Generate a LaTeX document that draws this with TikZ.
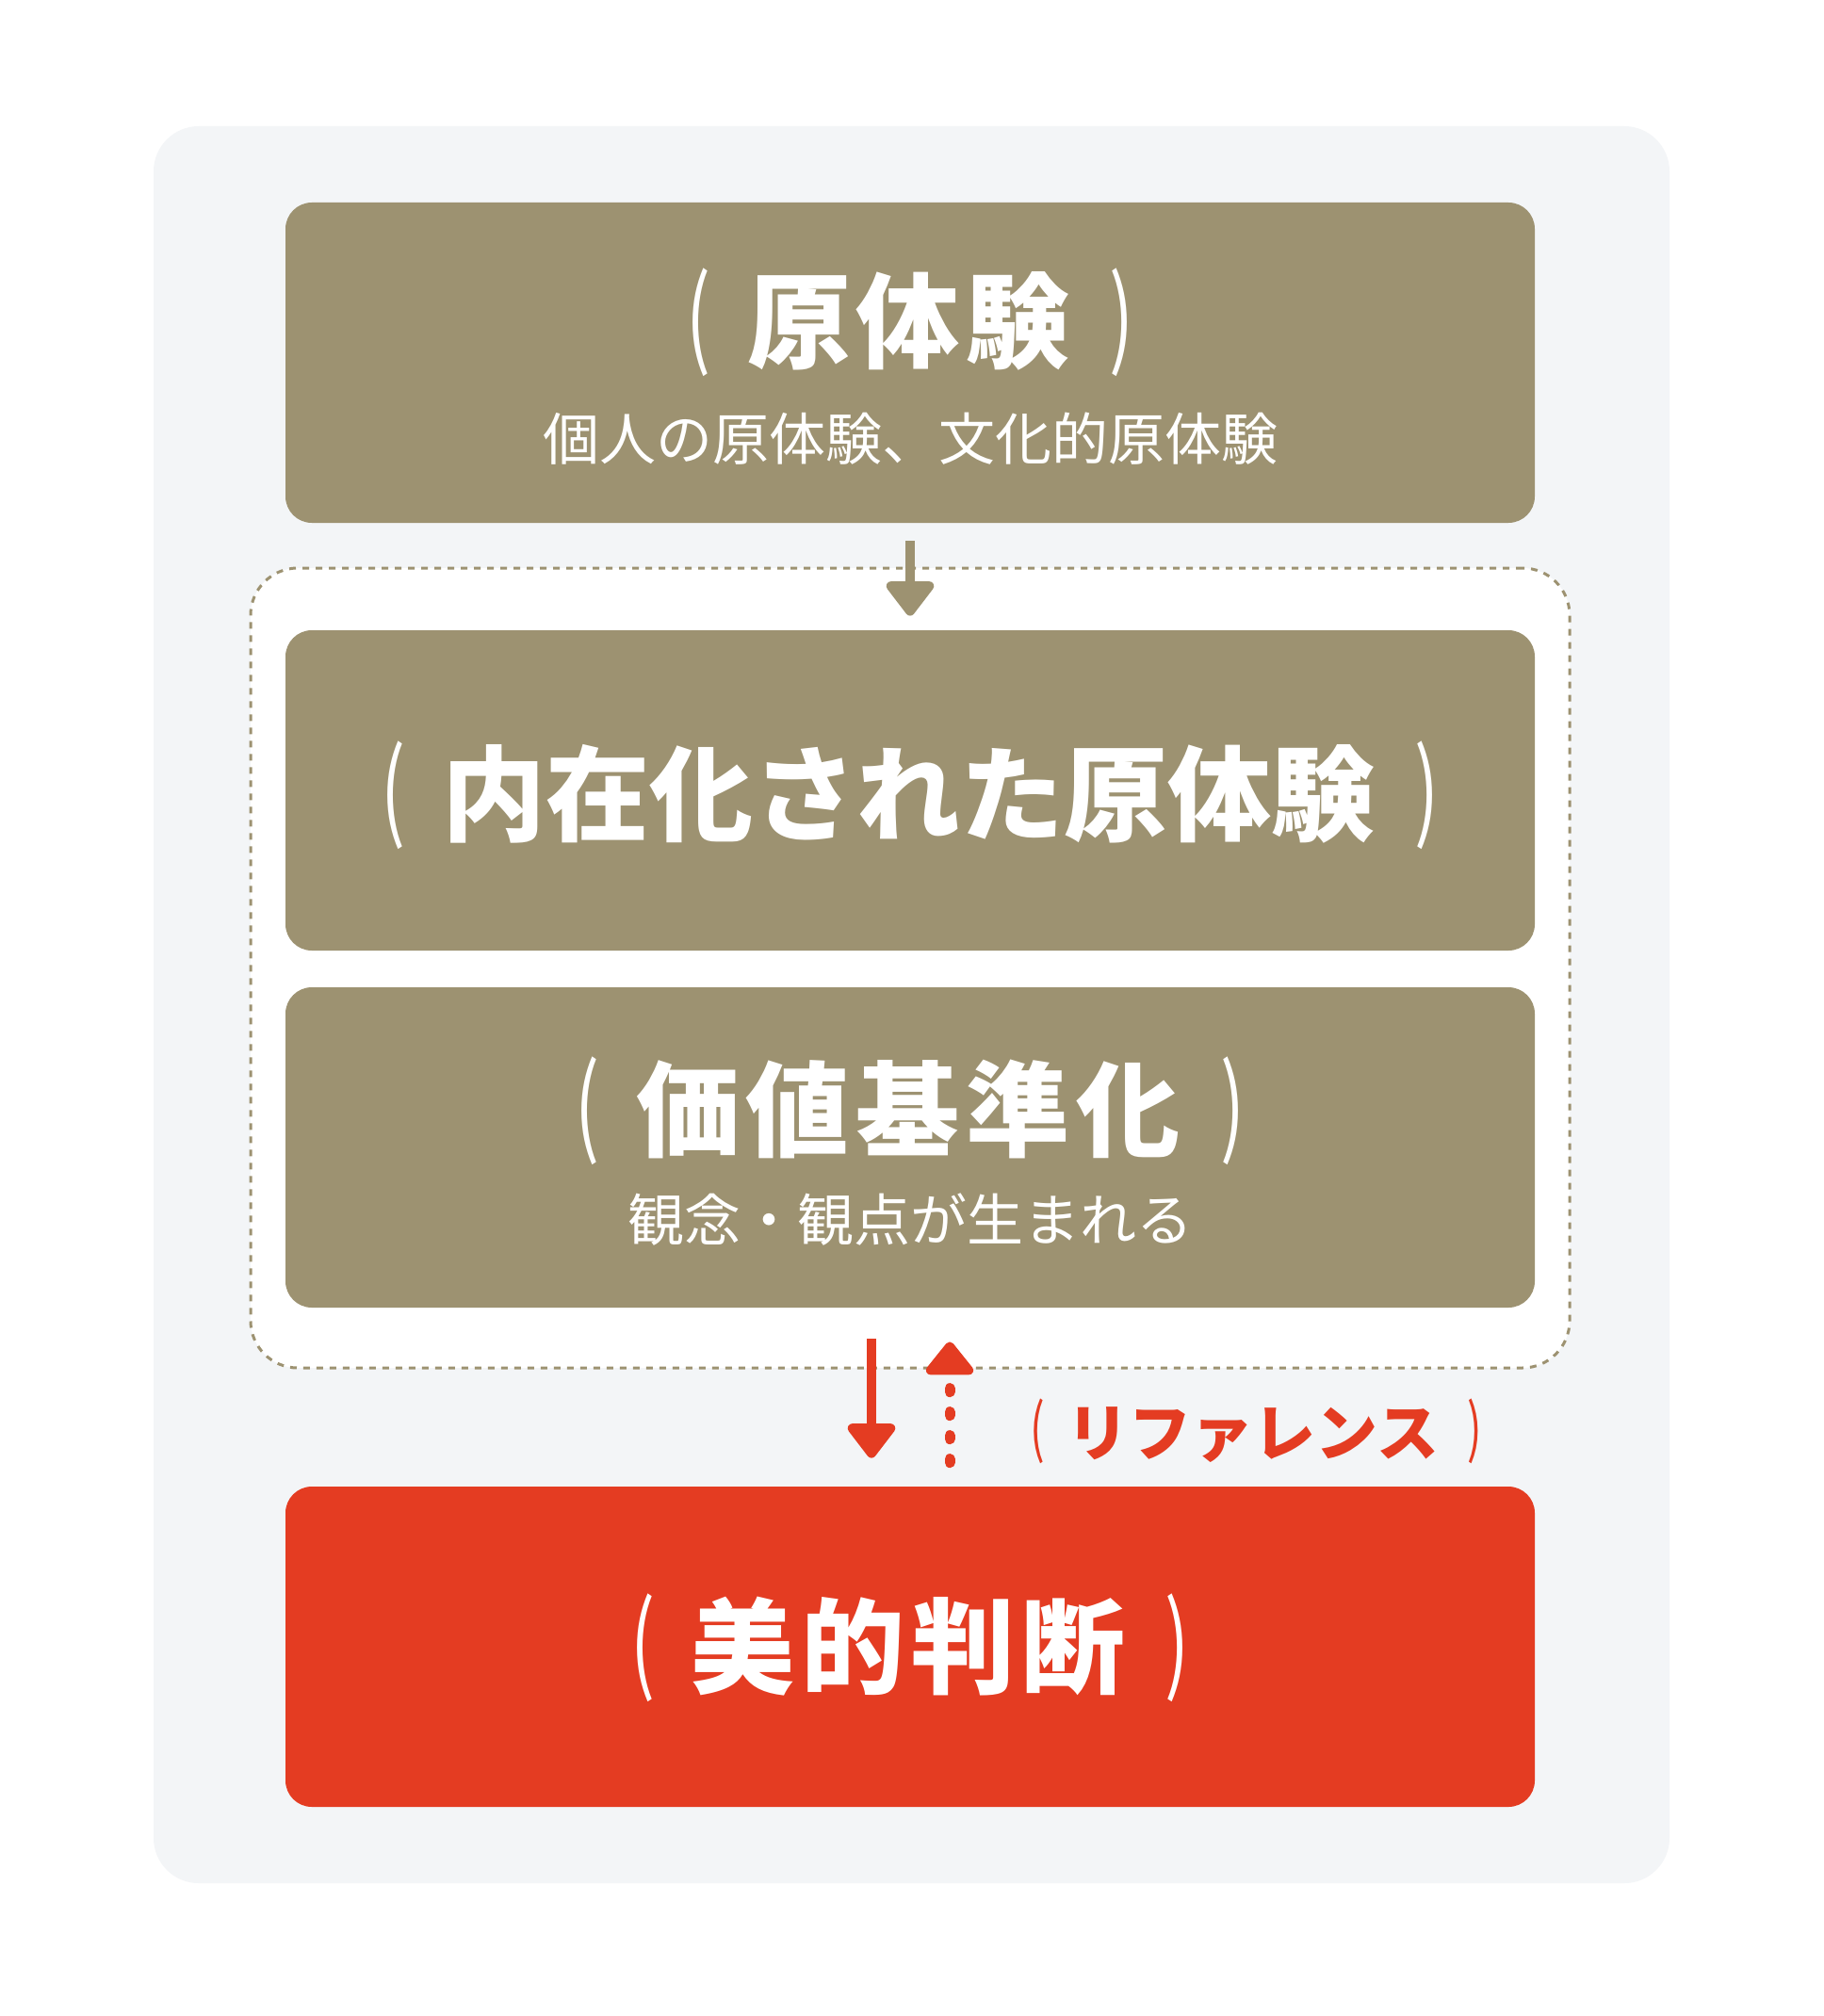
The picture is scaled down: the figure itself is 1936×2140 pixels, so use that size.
\documentclass[tikz,border=0pt]{standalone}
\usepackage{fontspec}
\newfontfamily\jp{Noto Sans CJK JP}
\newfontfamily\jpthin[BoldFont={Noto Sans CJK JP}]{Noto Sans CJK JP}
\usetikzlibrary{arrows.meta}
\definecolor{panelgray}{HTML}{F3F5F7}
\definecolor{olive}{HTML}{9D9271}
\definecolor{redbox}{HTML}{E43C22}
\newcommand{\thinparen}[1]{{\jpthin\raisebox{2.5pt}{\scalebox{0.7}[1.03]{#1}}}}
\newcommand{\lp}{\thinparen{(}\hspace{19pt}}
\newcommand{\rp}{\hspace{21pt}\thinparen{)}}
\begin{document}
\begin{tikzpicture}[x=0.5pt,y=-0.5pt,
  panel/.style={fill=panelgray, rounded corners=24pt, minimum width=804.5pt, minimum height=932.5pt, inner sep=0pt},
  dashbox/.style={draw=olive, fill=white, line width=1.5pt, dash pattern=on 3.5pt off 3.5pt, rounded corners=25pt, minimum width=700pt, minimum height=424.5pt, inner sep=0pt},
  olivebox/.style={fill=olive, rounded corners=14pt, minimum width=663pt, minimum height=170pt, inner sep=0pt},
  redbox/.style={fill=redbox, rounded corners=14pt, minimum width=663pt, minimum height=170pt, inner sep=0pt},
  title/.style={text=white, font=\jp\bfseries\fontsize{55pt}{60pt}\selectfont, inner sep=0pt},
  subtitle/.style={text=white, font=\jp\fontsize{30pt}{34pt}\selectfont, inner sep=0pt},
  reflabel/.style={text=redbox, font=\jp\bfseries\fontsize{33pt}{36pt}\selectfont, inner sep=0pt},
  olivearrow/.style={draw=olive, line width=5pt, -{Triangle[width=29pt,length=20pt,round]}},
  redarrow/.style={draw=redbox, line width=5pt, -{Triangle[width=29pt,length=20pt,round]}},
  reddash/.style={draw=redbox, line width=5.5pt, line cap=round, dash pattern=on 2pt off 10.5pt, -{Triangle[width=29pt,length=19pt,round]}}
]
\useasboundingbox (0,0) rectangle (1936,2140);
\fill[white] (0,0) rectangle (1936,2140);
\node[panel] (panel) at (967.5,1066.5) {};
\node[dashbox] (group) at (966,1027.5) {};
\node[olivebox] (b1) at (966,385) {};
\node[olivebox] (b2) at (966,839) {};
\node[olivebox] (b3) at (966,1218) {};
\node[redbox] (b4) at (966,1748) {};
\node[title] (t1) at (966,342) {\lp 原\hspace{3pt}体\hspace{3pt}験\rp};
\node[subtitle] (s1) at (966,466) {個人の原体験、文化的原体験};
\node[title] (t2) at (966,844) {\lp 内在化された原体験\rp};
\node[title] (t3) at (966,1179) {\lp 価\hspace{3.5pt}値\hspace{3.5pt}基\hspace{3.5pt}準\hspace{3.5pt}化\rp};
\node[subtitle] (s3) at (966,1295) {観念・観点が生まれる};
\node[title] (t4) at (966,1749) {\lp 美\hspace{3.5pt}的\hspace{3.5pt}判\hspace{3.5pt}断\rp};
\node[reflabel] (ref) at (1333,1519) {\thinparen{(}\hspace{12pt}リファレンス\hspace{15pt}\thinparen{)}};
\draw[olivearrow, shorten <=9.5pt, shorten >=7.5pt] (b1) -- (b2);
\draw[redarrow, shorten <=16.5pt, shorten >=15pt] ([xshift=-20.5pt]b3.south) -- ([xshift=-20.5pt]b4.north);
\draw[reddash, shorten <=12.5pt, shorten >=18pt] ([xshift=21pt]b4.north) -- ([xshift=21pt]b3.south);
\end{tikzpicture}
\end{document}
